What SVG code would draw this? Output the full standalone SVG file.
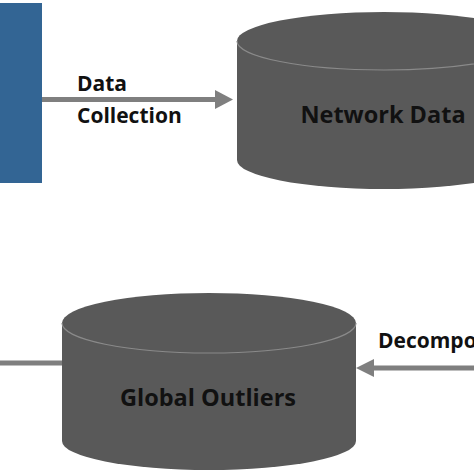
<svg xmlns="http://www.w3.org/2000/svg" width="474" height="474" viewBox="0 0 474 474">
<defs>
<style>
.cyl{fill:#595959;}
.rim{fill:none;stroke:#8a8a8a;stroke-width:1.2;}
.lbl{font-family:"Open Sans","Noto Sans","Liberation Sans",sans-serif;font-weight:700;fill:#111;}
.conn{stroke:#7f7f7f;stroke-width:5;fill:none;}
.head{fill:#7f7f7f;}
</style>
</defs>
<rect width="474" height="474" fill="#ffffff"/>
<g id="source">
<rect x="-2" y="3" width="44" height="180" fill="#336594"/>
</g>
<g id="network-data">
<path class="cyl" d="M237,41 A147,29 0 0 1 531,41 L531,160 A147,29 0 0 1 237,160 Z"/>
<path class="rim" d="M237,41 A147,29 0 0 0 531,41"/>
<text class="lbl" x="383" y="123" font-size="23.5" text-anchor="middle">Network Data</text>
</g>
<g id="global-outliers">
<path class="cyl" d="M62,323 A147,30 0 0 1 356,323 L356,441 A147,29 0 0 1 62,441 Z"/>
<path class="rim" d="M62,323 A147,30 0 0 0 356,323"/>
<text class="lbl" x="208" y="406" font-size="23.5" text-anchor="middle">Global Outliers</text>
</g>
<g id="connectors">
<line class="conn" x1="42" y1="99.5" x2="216" y2="99.5"/>
<polygon class="head" points="215,90 233,99.5 215,109"/>
<text class="lbl" x="77" y="91" font-size="21">Data</text>
<text class="lbl" x="77" y="123" font-size="21">Collection</text>
<line class="conn" x1="0" y1="363" x2="62" y2="363"/>
<line class="conn" x1="372" y1="368" x2="474" y2="368"/>
<polygon class="head" points="374,359 356,368 374,377"/>
<text class="lbl" x="378" y="348" font-size="21">Decomposition</text>
</g>
</svg>
